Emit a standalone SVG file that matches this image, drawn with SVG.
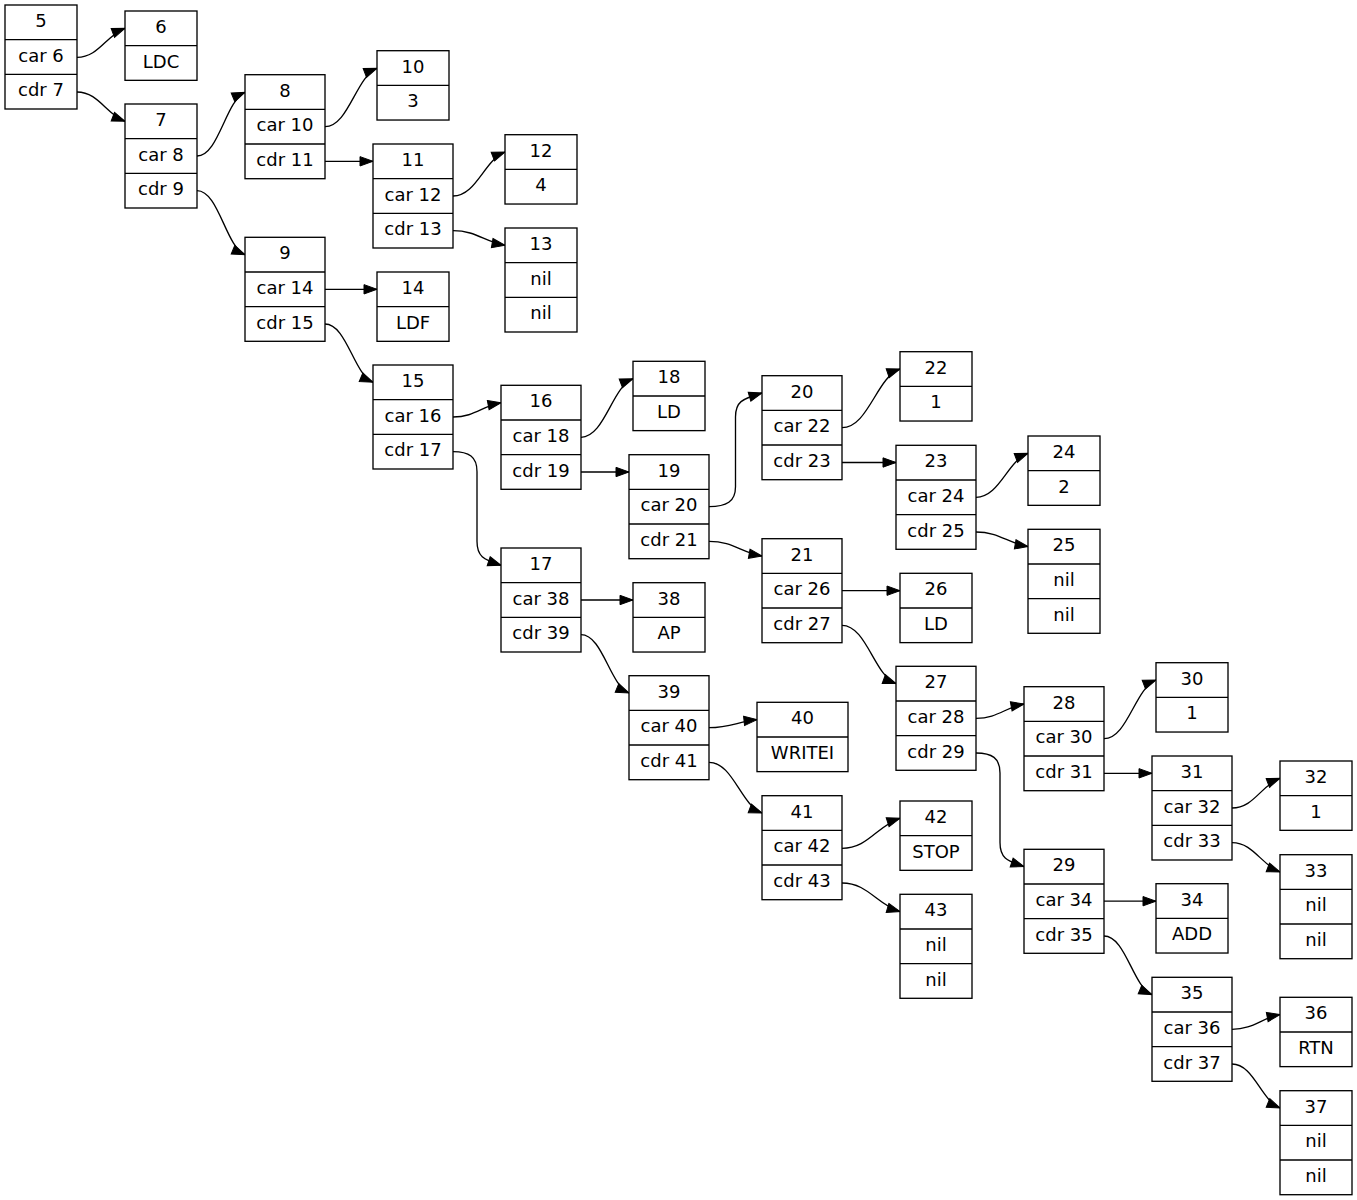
<svg xmlns="http://www.w3.org/2000/svg" width="1357" height="1200" viewBox="0 0 1357 1200">
<style>
.n rect{fill:#fff;stroke:#000;stroke-width:1.33}
.n line{stroke:#000;stroke-width:1.33}
.n text{font-family:"DejaVu Sans",sans-serif;font-size:18px;text-anchor:middle;fill:#000}
.e path{fill:none;stroke:#000;stroke-width:1.33;marker-end:url(#ah)}
</style>
<defs>
<marker id="ah" markerUnits="userSpaceOnUse" markerWidth="16" markerHeight="12" viewBox="0 0 16 12" refX="14" refY="6" orient="auto">
<path d="M1,1.33 L14,6 L1,10.67 z" fill="#000" stroke="#000" stroke-width="1"/>
</marker>
</defs>
<rect x="0" y="0" width="1357" height="1200" fill="#fff"/>
<g class="e" id="edges">
<path d="M77,57.3 C98.6,57.3 105.8,35.6 125,28.3"/>
<path d="M77,92 C98.6,92 105.8,114 125,121.3"/>
<path d="M197,156 C218.6,156 225.8,100.3 245,92.3"/>
<path d="M197,190.7 C218.6,190.7 225.8,246.7 245,254.7"/>
<path d="M325,126.7 C348.4,126.7 356.2,76.3 377,68.3"/>
<path d="M325,161.3 L373,161.3"/>
<path d="M453,196 C476.4,196 484.2,160 505,152"/>
<path d="M453,230.7 C476.4,230.7 484.2,241.7 505,245.3"/>
<path d="M325,289.3 L377,289.3"/>
<path d="M325,324 C346.6,324 353.8,374.3 373,382.3"/>
<path d="M453,417 C474.6,417 481.8,406.3 501,402.7"/>
<path d="M453,451.7 C469,451.7 477,456.7 477,471.7 L477,541.3 C477,556.3 483,559.3 501,565.3"/>
<path d="M581,437.3 C604.4,437.3 612.2,386.7 633,378.7"/>
<path d="M581,472 L629,472"/>
<path d="M709,506.7 C726.5,506.7 735.5,501.7 735.5,486.7 L735.5,417 C735.5,402 741.5,399 762,393"/>
<path d="M709,541.3 C732.9,541.3 740.8,552.3 762,556"/>
<path d="M842,427.7 C868.1,427.7 876.8,377 900,369"/>
<path d="M842,462.5 L896,462.5"/>
<path d="M976,497.3 C999.4,497.3 1007.2,461.3 1028,453.3"/>
<path d="M976,532 C999.4,532 1007.2,543 1028,546.6"/>
<path d="M842,590.7 L900,590.7"/>
<path d="M842,625.3 C866.3,625.3 874.4,675.6 896,683.6"/>
<path d="M976,718.3 C997.6,718.3 1004.8,707.6 1024,704"/>
<path d="M976,753 C992,753 1000,758 1000,773 L1000,842.6 C1000,857.6 1006,860.6 1024,866.6"/>
<path d="M1104,738.7 C1127.4,738.7 1135.2,688 1156,680"/>
<path d="M1104,773.3 L1152,773.3"/>
<path d="M1232,808 C1253.6,808 1260.8,785.7 1280,778.3"/>
<path d="M1232,842.7 C1253.6,842.7 1260.8,864.7 1280,872"/>
<path d="M1104,901.2 L1156,901.2"/>
<path d="M1104,936 C1125.6,936 1132.8,986.6 1152,994.6"/>
<path d="M1232,1029.3 C1253.6,1029.3 1260.8,1018.3 1280,1014.6"/>
<path d="M1232,1064 C1253.6,1064 1260.8,1100 1280,1108"/>
<path d="M581,600 L633,600"/>
<path d="M581,634.7 C602.6,634.7 609.8,685 629,693"/>
<path d="M709,727.7 C730.6,727.7 737.8,721.6 757,719.6"/>
<path d="M709,762.3 C732.9,762.3 740.8,805 762,813"/>
<path d="M842,848.3 C868.1,848.3 876.8,825.8 900,818.3"/>
<path d="M842,883 C868.1,883 876.8,904.8 900,911.6"/>
</g>
<g class="n" id="n5" transform="translate(5,5)"><rect width="72" height="104"/><line x1="0" y1="34.67" x2="72" y2="34.67"/><line x1="0" y1="69.33" x2="72" y2="69.33"/><text x="36" y="21.9">5</text><text x="36" y="56.6">car 6</text><text x="36" y="91.3">cdr 7</text></g>
<g class="n" id="n6" transform="translate(125,11)"><rect width="72" height="69.33"/><line x1="0" y1="34.67" x2="72" y2="34.67"/><text x="36" y="21.9">6</text><text x="36" y="56.6">LDC</text></g>
<g class="n" id="n7" transform="translate(125,104)"><rect width="72" height="104"/><line x1="0" y1="34.67" x2="72" y2="34.67"/><line x1="0" y1="69.33" x2="72" y2="69.33"/><text x="36" y="21.9">7</text><text x="36" y="56.6">car 8</text><text x="36" y="91.3">cdr 9</text></g>
<g class="n" id="n8" transform="translate(245,74.7)"><rect width="80" height="104"/><line x1="0" y1="34.67" x2="80" y2="34.67"/><line x1="0" y1="69.33" x2="80" y2="69.33"/><text x="40" y="21.9">8</text><text x="40" y="56.6">car 10</text><text x="40" y="91.3">cdr 11</text></g>
<g class="n" id="n10" transform="translate(377,50.7)"><rect width="72" height="69.33"/><line x1="0" y1="34.67" x2="72" y2="34.67"/><text x="36" y="21.9">10</text><text x="36" y="56.6">3</text></g>
<g class="n" id="n11" transform="translate(373,144)"><rect width="80" height="104"/><line x1="0" y1="34.67" x2="80" y2="34.67"/><line x1="0" y1="69.33" x2="80" y2="69.33"/><text x="40" y="21.9">11</text><text x="40" y="56.6">car 12</text><text x="40" y="91.3">cdr 13</text></g>
<g class="n" id="n12" transform="translate(505,134.7)"><rect width="72" height="69.33"/><line x1="0" y1="34.67" x2="72" y2="34.67"/><text x="36" y="21.9">12</text><text x="36" y="56.6">4</text></g>
<g class="n" id="n13" transform="translate(505,228)"><rect width="72" height="104"/><line x1="0" y1="34.67" x2="72" y2="34.67"/><line x1="0" y1="69.33" x2="72" y2="69.33"/><text x="36" y="21.9">13</text><text x="36" y="56.6">nil</text><text x="36" y="91.3">nil</text></g>
<g class="n" id="n9" transform="translate(245,237.3)"><rect width="80" height="104"/><line x1="0" y1="34.67" x2="80" y2="34.67"/><line x1="0" y1="69.33" x2="80" y2="69.33"/><text x="40" y="21.9">9</text><text x="40" y="56.6">car 14</text><text x="40" y="91.3">cdr 15</text></g>
<g class="n" id="n14" transform="translate(377,272)"><rect width="72" height="69.33"/><line x1="0" y1="34.67" x2="72" y2="34.67"/><text x="36" y="21.9">14</text><text x="36" y="56.6">LDF</text></g>
<g class="n" id="n15" transform="translate(373,365)"><rect width="80" height="104"/><line x1="0" y1="34.67" x2="80" y2="34.67"/><line x1="0" y1="69.33" x2="80" y2="69.33"/><text x="40" y="21.9">15</text><text x="40" y="56.6">car 16</text><text x="40" y="91.3">cdr 17</text></g>
<g class="n" id="n16" transform="translate(501,385.3)"><rect width="80" height="104"/><line x1="0" y1="34.67" x2="80" y2="34.67"/><line x1="0" y1="69.33" x2="80" y2="69.33"/><text x="40" y="21.9">16</text><text x="40" y="56.6">car 18</text><text x="40" y="91.3">cdr 19</text></g>
<g class="n" id="n18" transform="translate(633,361.3)"><rect width="72" height="69.33"/><line x1="0" y1="34.67" x2="72" y2="34.67"/><text x="36" y="21.9">18</text><text x="36" y="56.6">LD</text></g>
<g class="n" id="n19" transform="translate(629,454.7)"><rect width="80" height="104"/><line x1="0" y1="34.67" x2="80" y2="34.67"/><line x1="0" y1="69.33" x2="80" y2="69.33"/><text x="40" y="21.9">19</text><text x="40" y="56.6">car 20</text><text x="40" y="91.3">cdr 21</text></g>
<g class="n" id="n20" transform="translate(762,375.7)"><rect width="80" height="104"/><line x1="0" y1="34.67" x2="80" y2="34.67"/><line x1="0" y1="69.33" x2="80" y2="69.33"/><text x="40" y="21.9">20</text><text x="40" y="56.6">car 22</text><text x="40" y="91.3">cdr 23</text></g>
<g class="n" id="n22" transform="translate(900,351.7)"><rect width="72" height="69.33"/><line x1="0" y1="34.67" x2="72" y2="34.67"/><text x="36" y="21.9">22</text><text x="36" y="56.6">1</text></g>
<g class="n" id="n23" transform="translate(896,445.3)"><rect width="80" height="104"/><line x1="0" y1="34.67" x2="80" y2="34.67"/><line x1="0" y1="69.33" x2="80" y2="69.33"/><text x="40" y="21.9">23</text><text x="40" y="56.6">car 24</text><text x="40" y="91.3">cdr 25</text></g>
<g class="n" id="n24" transform="translate(1028,436)"><rect width="72" height="69.33"/><line x1="0" y1="34.67" x2="72" y2="34.67"/><text x="36" y="21.9">24</text><text x="36" y="56.6">2</text></g>
<g class="n" id="n25" transform="translate(1028,529.3)"><rect width="72" height="104"/><line x1="0" y1="34.67" x2="72" y2="34.67"/><line x1="0" y1="69.33" x2="72" y2="69.33"/><text x="36" y="21.9">25</text><text x="36" y="56.6">nil</text><text x="36" y="91.3">nil</text></g>
<g class="n" id="n21" transform="translate(762,538.7)"><rect width="80" height="104"/><line x1="0" y1="34.67" x2="80" y2="34.67"/><line x1="0" y1="69.33" x2="80" y2="69.33"/><text x="40" y="21.9">21</text><text x="40" y="56.6">car 26</text><text x="40" y="91.3">cdr 27</text></g>
<g class="n" id="n26" transform="translate(900,573.3)"><rect width="72" height="69.33"/><line x1="0" y1="34.67" x2="72" y2="34.67"/><text x="36" y="21.9">26</text><text x="36" y="56.6">LD</text></g>
<g class="n" id="n27" transform="translate(896,666.3)"><rect width="80" height="104"/><line x1="0" y1="34.67" x2="80" y2="34.67"/><line x1="0" y1="69.33" x2="80" y2="69.33"/><text x="40" y="21.9">27</text><text x="40" y="56.6">car 28</text><text x="40" y="91.3">cdr 29</text></g>
<g class="n" id="n28" transform="translate(1024,686.7)"><rect width="80" height="104"/><line x1="0" y1="34.67" x2="80" y2="34.67"/><line x1="0" y1="69.33" x2="80" y2="69.33"/><text x="40" y="21.9">28</text><text x="40" y="56.6">car 30</text><text x="40" y="91.3">cdr 31</text></g>
<g class="n" id="n30" transform="translate(1156,662.7)"><rect width="72" height="69.33"/><line x1="0" y1="34.67" x2="72" y2="34.67"/><text x="36" y="21.9">30</text><text x="36" y="56.6">1</text></g>
<g class="n" id="n31" transform="translate(1152,756)"><rect width="80" height="104"/><line x1="0" y1="34.67" x2="80" y2="34.67"/><line x1="0" y1="69.33" x2="80" y2="69.33"/><text x="40" y="21.9">31</text><text x="40" y="56.6">car 32</text><text x="40" y="91.3">cdr 33</text></g>
<g class="n" id="n32" transform="translate(1280,761)"><rect width="72" height="69.33"/><line x1="0" y1="34.67" x2="72" y2="34.67"/><text x="36" y="21.9">32</text><text x="36" y="56.6">1</text></g>
<g class="n" id="n33" transform="translate(1280,854.7)"><rect width="72" height="104"/><line x1="0" y1="34.67" x2="72" y2="34.67"/><line x1="0" y1="69.33" x2="72" y2="69.33"/><text x="36" y="21.9">33</text><text x="36" y="56.6">nil</text><text x="36" y="91.3">nil</text></g>
<g class="n" id="n29" transform="translate(1024,849.3)"><rect width="80" height="104"/><line x1="0" y1="34.67" x2="80" y2="34.67"/><line x1="0" y1="69.33" x2="80" y2="69.33"/><text x="40" y="21.9">29</text><text x="40" y="56.6">car 34</text><text x="40" y="91.3">cdr 35</text></g>
<g class="n" id="n34" transform="translate(1156,883.7)"><rect width="72" height="69.33"/><line x1="0" y1="34.67" x2="72" y2="34.67"/><text x="36" y="21.9">34</text><text x="36" y="56.6">ADD</text></g>
<g class="n" id="n35" transform="translate(1152,977.3)"><rect width="80" height="104"/><line x1="0" y1="34.67" x2="80" y2="34.67"/><line x1="0" y1="69.33" x2="80" y2="69.33"/><text x="40" y="21.9">35</text><text x="40" y="56.6">car 36</text><text x="40" y="91.3">cdr 37</text></g>
<g class="n" id="n36" transform="translate(1280,997.3)"><rect width="72" height="69.33"/><line x1="0" y1="34.67" x2="72" y2="34.67"/><text x="36" y="21.9">36</text><text x="36" y="56.6">RTN</text></g>
<g class="n" id="n37" transform="translate(1280,1090.7)"><rect width="72" height="104"/><line x1="0" y1="34.67" x2="72" y2="34.67"/><line x1="0" y1="69.33" x2="72" y2="69.33"/><text x="36" y="21.9">37</text><text x="36" y="56.6">nil</text><text x="36" y="91.3">nil</text></g>
<g class="n" id="n17" transform="translate(501,548)"><rect width="80" height="104"/><line x1="0" y1="34.67" x2="80" y2="34.67"/><line x1="0" y1="69.33" x2="80" y2="69.33"/><text x="40" y="21.9">17</text><text x="40" y="56.6">car 38</text><text x="40" y="91.3">cdr 39</text></g>
<g class="n" id="n38" transform="translate(633,582.7)"><rect width="72" height="69.33"/><line x1="0" y1="34.67" x2="72" y2="34.67"/><text x="36" y="21.9">38</text><text x="36" y="56.6">AP</text></g>
<g class="n" id="n39" transform="translate(629,675.7)"><rect width="80" height="104"/><line x1="0" y1="34.67" x2="80" y2="34.67"/><line x1="0" y1="69.33" x2="80" y2="69.33"/><text x="40" y="21.9">39</text><text x="40" y="56.6">car 40</text><text x="40" y="91.3">cdr 41</text></g>
<g class="n" id="n40" transform="translate(757,702.3)"><rect width="91" height="69.33"/><line x1="0" y1="34.67" x2="91" y2="34.67"/><text x="45.5" y="21.9">40</text><text x="45.5" y="56.6">WRITEI</text></g>
<g class="n" id="n41" transform="translate(762,795.7)"><rect width="80" height="104"/><line x1="0" y1="34.67" x2="80" y2="34.67"/><line x1="0" y1="69.33" x2="80" y2="69.33"/><text x="40" y="21.9">41</text><text x="40" y="56.6">car 42</text><text x="40" y="91.3">cdr 43</text></g>
<g class="n" id="n42" transform="translate(900,801)"><rect width="72" height="69.33"/><line x1="0" y1="34.67" x2="72" y2="34.67"/><text x="36" y="21.9">42</text><text x="36" y="56.6">STOP</text></g>
<g class="n" id="n43" transform="translate(900,894.3)"><rect width="72" height="104"/><line x1="0" y1="34.67" x2="72" y2="34.67"/><line x1="0" y1="69.33" x2="72" y2="69.33"/><text x="36" y="21.9">43</text><text x="36" y="56.6">nil</text><text x="36" y="91.3">nil</text></g>
</svg>
